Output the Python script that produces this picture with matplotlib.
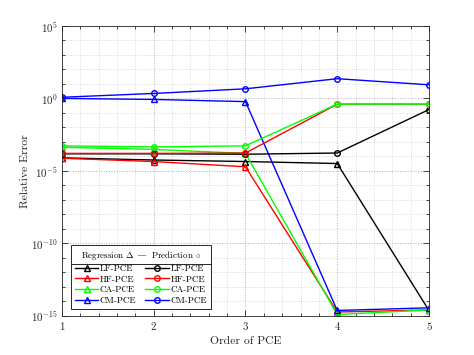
import matplotlib
matplotlib.use("Agg")
import matplotlib.pyplot as plt
from matplotlib.ticker import MultipleLocator, NullFormatter, FixedLocator
from matplotlib.lines import Line2D

plt.rcParams['font.family'] = ['cmr10', 'DejaVu Serif']
plt.rcParams['mathtext.fontset'] = 'cm'
plt.rcParams['axes.formatter.use_mathtext'] = True

orders = [1, 2, 3, 4, 5]
names = ["LF-PCE", "HF-PCE", "CA-PCE", "CM-PCE"]
colors = ["#000000", "#ff0000", "#00ff00", "#0000ff"]

lf_reg = [7.9e-5, 5.6e-5, 4.4e-5, 3.2e-5, 2.3e-15]
hf_reg = [7.4e-5, 4.4e-5, 1.9e-5, 1.8e-15, 2.5e-15]
ca_reg = [4.3e-4, 3.0e-4, 1.6e-4, 1.2e-15, 2.5e-15]
cm_reg = [1.0, 0.85, 0.6, 2.3e-15, 3.5e-15]

lf_pred = [1.5e-4, 1.5e-4, 1.4e-4, 1.7e-4, 0.17]
hf_pred = [1.6e-4, 1.6e-4, 1.7e-4, 0.4, 0.4]
ca_pred = [5.3e-4, 4.5e-4, 5.3e-4, 0.4, 0.4]
cm_pred = [1.2, 2.2, 4.6, 23.0, 8.7]

reg = [lf_reg, hf_reg, ca_reg, cm_reg]
pred = [lf_pred, hf_pred, ca_pred, cm_pred]

fig = plt.figure(figsize=(4.74, 3.55), dpi=100)
ax = fig.add_axes([0.1308, 0.1107, 0.7742, 0.8161])

h_reg, h_pred = [], []
for name, c, r in zip(names, colors, reg):
    l1, = ax.plot(orders, r, color=c, marker='^', mfc='none', mec=c, ms=4,
                  lw=1.0, mew=1.0, label=name)
    h_reg.append(l1)
for name, c, p in zip(names, colors, pred):
    l2, = ax.plot(orders, p, color=c, marker='o', mfc='none', mec=c, ms=4,
                  lw=1.0, mew=1.0, label=name)
    h_pred.append(l2)

ax.set_yscale('log')
ax.set_ylim(1e-15, 1e5)
ax.set_xlim(1, 5)
ax.yaxis.set_major_locator(FixedLocator([1e-15, 1e-10, 1e-5, 1e0, 1e5]))
ax.yaxis.set_minor_locator(FixedLocator([10.0**k for k in range(-15, 6)]))
ax.yaxis.set_minor_formatter(NullFormatter())
ax.xaxis.set_major_locator(MultipleLocator(1))
ax.xaxis.set_minor_locator(MultipleLocator(0.2))

ax.grid(True, which='major', ls=':', color='#b0b0b0', lw=0.7)
ax.grid(True, which='minor', ls=':', color='#d0d0d0', lw=0.6)
ax.tick_params(which='both', direction='in', top=True, right=True,
               labelsize=7.8, colors='#262626', width=0.6)
ax.tick_params(which='major', length=4, pad=3)
ax.tick_params(which='minor', length=2)
for s in ax.spines.values():
    s.set_color('#262626')
    s.set_linewidth(0.6)

ax.set_xlabel("Order of PCE", fontsize=8.4, color='#262626', labelpad=3)
ax.set_ylabel("Relative Error", fontsize=8.4, color='#262626', labelpad=1)

leg = ax.legend(h_reg + h_pred, names + names, ncol=2,
                title=r"Regression $\Delta$ $-\!\!\!\!-$ Prediction $\circ$",
                loc='lower left', bbox_to_anchor=(0.024, 0.023),
                fontsize=6.5, title_fontsize=6.5, fancybox=False,
                edgecolor='#262626', framealpha=1, borderpad=0.45,
                borderaxespad=0.0,
                handlelength=2.6, handletextpad=0.15, columnspacing=1.0,
                labelspacing=0.25)
leg.get_frame().set_linewidth(0.7)

fig.canvas.draw()
fb = leg.get_frame().get_window_extent()
tb = leg.get_title().get_window_extent()
y_sep = tb.y0 - 1.5
inv = fig.transFigure.inverted()
(x0, y0) = inv.transform((fb.x0, y_sep))
(x1, _) = inv.transform((fb.x1, y_sep))
fig.add_artist(Line2D([x0, x1], [y0, y0], color='#262626', lw=0.7,
                      transform=fig.transFigure, zorder=10))

fig.savefig("out.png", dpi=100, facecolor='white')
